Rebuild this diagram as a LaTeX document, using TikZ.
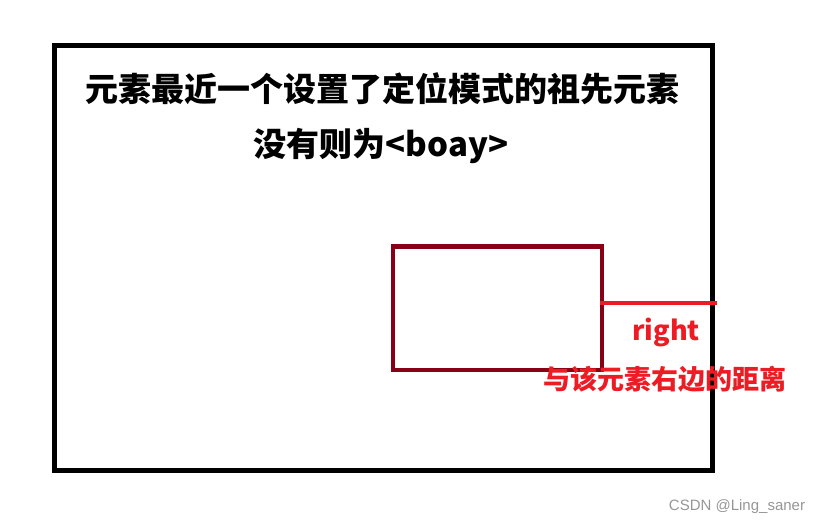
\documentclass[tikz,border=0pt]{standalone}
\usepackage{fontspec}
\setmainfont{Liberation Sans}
\newfontfamily\cjk{Noto Sans CJK SC}
\begin{document}
\begin{tikzpicture}[x=1pt,y=-1pt]
\definecolor{color1}{RGB}{136,0,21}
\definecolor{color2}{RGB}{237,28,36}
\definecolor{color3}{RGB}{150,150,150}
\useasboundingbox (0,0) rectangle (821,525);
\coordinate[] (A1) at (54.5,45.5);
\coordinate[] (A2) at (712.5,470.5);
\coordinate[] (B1) at (393,246.5);
\coordinate[] (B2) at (602,370);
\coordinate[] (C1) at (600,303);
\coordinate[] (C2) at (716.5,303);
\draw[line width=5pt] (A1) rectangle (A2);
\draw[line width=4.5pt,color=color1] (B1) rectangle (B2);
\draw[line width=4pt,color=color2] (C1)--(C2);
\node[inner sep=0pt,font=\cjk\bfseries\fontsize{33}{36}\selectfont] (T1) at (382,89) {元素最近一个设置了定位模式的祖先元素};
\node[inner sep=0pt,font=\cjk\bfseries\fontsize{33}{36}\selectfont] (T2) at (381,146) {没有则为<boay>};
\node[inner sep=0pt,text=color2,font=\cjk\bfseries\fontsize{27}{30}\selectfont] (L1) at (666,333) {right};
\node[inner sep=0pt,text=color2,font=\cjk\bfseries\fontsize{27}{30}\selectfont] (L2) at (665,379) {与该元素右边的距离};
\node[inner sep=0pt,text=color3,font=\fontsize{15}{17}\selectfont] (W1) at (737,507) {CSDN @Ling\_saner};
\end{tikzpicture}
\end{document}
